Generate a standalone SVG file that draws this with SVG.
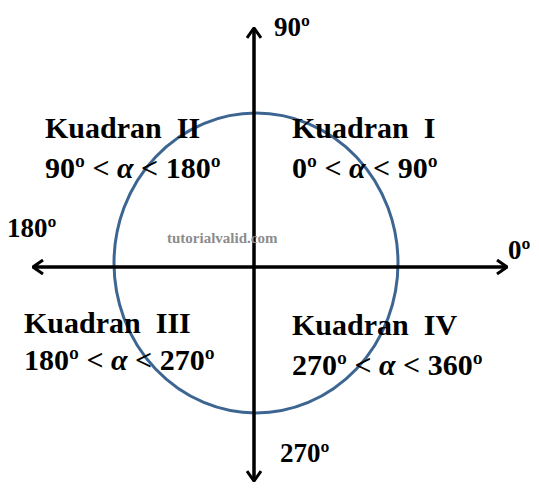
<svg xmlns="http://www.w3.org/2000/svg" width="539" height="490" viewBox="0 0 539 490">
<style>
.t{font-family:"Liberation Serif","Times New Roman",serif;font-weight:bold;font-size:30px;fill:#000;white-space:pre}
.a{font-style:italic}
.d{font-family:"Liberation Serif","Times New Roman",serif;font-weight:bold;font-size:27px;fill:#000}
.ax{stroke:#000;stroke-width:3;fill:none}
.wm{font-family:"Liberation Serif","Times New Roman",serif;font-weight:bold;font-size:15px;fill:#8c8c8c}
</style>
<defs>
<marker id="arr" viewBox="0 0 12 16" refX="11" refY="8" markerWidth="12" markerHeight="16" markerUnits="userSpaceOnUse" orient="auto">
<path d="M1,1 L11,8 L1,15" fill="none" stroke="#000" stroke-width="3"/>
</marker>
</defs>
<rect width="539" height="490" fill="#fff"/>
<g id="circle">
<ellipse cx="256" cy="263" rx="142" ry="150" fill="none" stroke="#3d6592" stroke-width="3"/>
</g>
<g id="connectors">
<line class="ax" x1="254" y1="481" x2="254" y2="28" marker-end="url(#arr)"/>
<line class="ax" x1="254" y1="28" x2="254" y2="481" marker-end="url(#arr)"/>
<line class="ax" x1="33" y1="267" x2="507" y2="267" marker-end="url(#arr)"/>
<line class="ax" x1="507" y1="267" x2="33" y2="267" marker-end="url(#arr)"/>
</g>
<g id="q1"><text class="t" x="292" y="138" xml:space="preserve">Kuadran  I</text><text class="t" x="292" y="178" xml:space="preserve">0º &lt; <tspan class="a">α</tspan> &lt; 90º</text></g>
<g id="q2"><text class="t" x="45" y="138" xml:space="preserve">Kuadran  II</text><text class="t" x="45" y="178" xml:space="preserve">90º &lt; <tspan class="a">α</tspan> &lt; 180º</text></g>
<g id="q3"><text class="t" x="24" y="333" xml:space="preserve">Kuadran  III</text><text class="t" x="24" y="370" xml:space="preserve">180º &lt; <tspan class="a">α</tspan> &lt; 270º</text></g>
<g id="q4"><text class="t" x="292" y="335" xml:space="preserve">Kuadran  IV</text><text class="t" x="292" y="375" xml:space="preserve">270º &lt; <tspan class="a">α</tspan> &lt; 360º</text></g>
<g id="labels">
<text class="d" x="274" y="36">90º</text>
<text class="d" x="7" y="237">180º</text>
<text class="d" x="508" y="259">0º</text>
<text class="d" x="280" y="462">270º</text>
<text class="wm" x="167" y="243">tutorialvalid.com</text>
</g>
</svg>
